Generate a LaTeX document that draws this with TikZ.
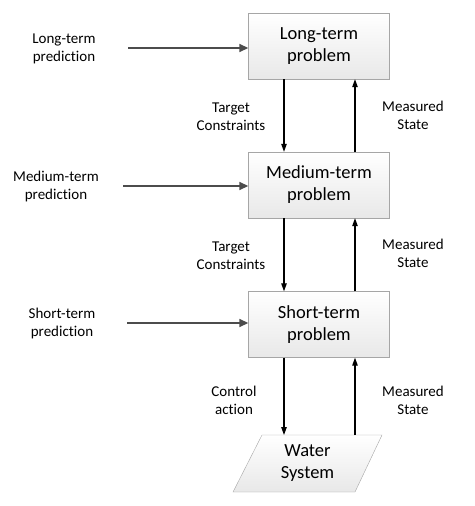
\documentclass[tikz,border=0pt]{standalone}
\usepackage{fontspec}
\setmainfont{Carlito}[Ligatures=NoCommon]
\usetikzlibrary{arrows.meta,calc}
\tikzset{
  problem/.style={draw=gray!70,top color=white,bottom color=gray!18,minimum width=141pt,minimum height=66pt,align=center,font=\fontsize{18.5}{22}\selectfont},
  lab/.style={align=center,font=\fontsize{15}{18}\selectfont},
  feed/.style={draw=black!70,line width=1.6pt,-{Triangle[length=9pt,width=8pt]}},
  link/.style={draw=black,line width=1.1pt,-{Triangle[length=8pt,width=5.5pt]}}
}
\begin{document}
\begin{tikzpicture}[x=1pt,y=-1pt]
\useasboundingbox (0,0) rectangle (474,506);
% problem boxes
\node[problem] (long) at (319,46) {Long-term\\problem};
\node[problem] (medium) at (319,185) {Medium-term\\problem};
\node[problem] (short) at (319,324.5) {Short-term\\problem};
% water system
\draw[draw=gray!70,top color=white,bottom color=gray!18] (262,435) -- (382,435) -- (355,492) -- (233,492) -- cycle;
\node[lab,font=\fontsize{18.5}{22}\selectfont] (water) at (307.5,463.5) {Water\\System};
\coordinate (wdown) at (284,435);
\coordinate (wup) at (355,435);
% predictions
\node[lab] (lp) at (64,49) {Long-term\\predict\kern0pt ion};
\node[lab] (mp) at (56,186) {Medium-term\\predict\kern0pt ion};
\node[lab] (sp) at (62,323) {Short-term\\predict\kern0pt ion};
\coordinate (lin) at (128,48);
\coordinate (min) at (123,186);
\coordinate (sin) at (127,323);
\draw[feed] (lin) -- (lin -| long.west);
\draw[feed] (min) -- (min -| medium.west);
\draw[feed] (sin) -- (sin -| short.west);
% links between levels
\draw[link] (wdown |- long.south) -- (wdown |- medium.north);
\draw[link] (wup |- medium.north) -- (wup |- long.south);
\draw[link] (wdown |- medium.south) -- (wdown |- short.north);
\draw[link] (wup |- short.north) -- (wup |- medium.south);
\draw[link] (wdown |- short.south) -- (wdown);
\draw[link] (wup) -- (wup |- short.south);
% labels
\node[lab] (tc1) at (231,117) {Target\\Constraints};
\node[lab] (ms1) at (413,115) {Measured\\State};
\node[lab] (tc2) at (231,256) {Target\\Constraints};
\node[lab] (ms2) at (413,253) {Measured\\State};
\node[lab] (ca) at (234,400) {Control\\action};
\node[lab] (ms3) at (413,400) {Measured\\State};
\end{tikzpicture}
\end{document}
